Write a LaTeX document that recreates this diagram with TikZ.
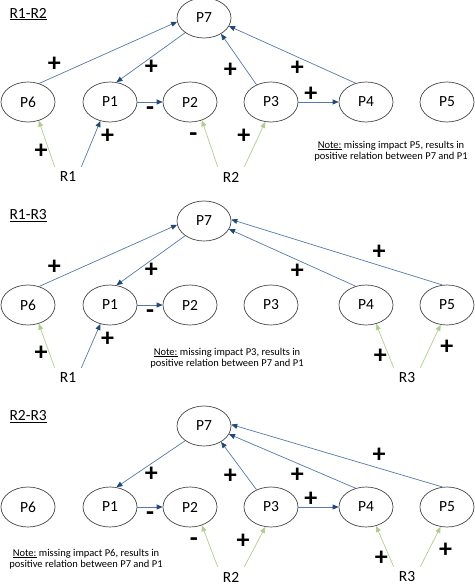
\documentclass[tikz,border=0pt]{standalone}
\usepackage{fontspec}
\setmainfont{Carlito}
\usetikzlibrary{positioning, arrows.meta, shapes}

\definecolor{linkblue}{RGB}{84,121,170}
\definecolor{tipblue}{RGB}{31,73,125}
\definecolor{linkgreen}{RGB}{176,205,140}
\definecolor{rimgray}{RGB}{70,70,70}

\tikzset{
  proc/.style={ellipse, draw=rimgray, line width=0.7pt, minimum width=54pt, minimum height=40pt, inner sep=0pt, font=\fontsize{15.5}{18}\selectfont},
  res/.style={inner sep=5pt, font=\fontsize{15.5}{18}\selectfont},
  sgn/.style={inner sep=0pt, font=\bfseries\fontsize{26}{26}\selectfont},
  blink/.style={draw=linkblue, line width=0.7pt, -{Triangle[length=6pt, width=5pt, color=tipblue]}},
  glink/.style={draw=linkgreen, line width=0.7pt, -{Triangle[length=6pt, width=5pt]}},
  note/.style={align=center, font=\fontsize{10.5}{11.5}\selectfont},
  heading/.style={anchor=west, font=\fontsize{15.5}{18}\selectfont}
}

\begin{document}
\begin{tikzpicture}[x=1pt, y=-1pt]
  \useasboundingbox (0,0) rectangle (474,585);

  % R1-R2
  \node[heading] (ha) at (6,14) {\underline{R1-R2}};
  \node[proc] (p7a) at (204,18) {P7};
  \node[proc] (p6a) at (28,102) {P6};
  \node[proc] (p1a) at (110,102) {P1};
  \node[proc] (p2a) at (190,102) {P2};
  \node[proc] (p3a) at (271,102) {P3};
  \node[proc] (p4a) at (366,102) {P4};
  \node[proc] (p5a) at (447,102) {P5};
  \node[res] (r1a) at (68,177) {R1};
  \node[res] (r2a) at (231,177) {R2};
  \node[note] (na) at (391,151) {\underline{Note:} missing impact P5, results in\\positive relation between P7 and P1};

  \draw[blink] (p6a.59) -- node[sgn, pos=.11, above=5pt] {+} (p7a.188);
  \draw[blink] (p7a.218) -- node[sgn, pos=.49, below=3pt] {+} (p1a.72);
  \draw[blink] (p1a.east) -- node[sgn, pos=.5, below=4pt] {-} (p2a.west);
  \draw[glink] (r1a.north west) -- node[sgn, pos=.33, left=1.5pt] {+} (p6a.300);
  \draw[blink] (r1a.north east) -- node[sgn, pos=.66, right=7pt] {+} (p1a.243);
  \draw[glink] (r2a.north west) -- node[sgn, pos=.63, left=10pt] {-} (p2a.303);
  \draw[glink] (r2a.north east) -- node[sgn, pos=.68, left=8pt] {+} (p3a.254);
  \draw[blink] (p3a.130) -- node[sgn, pos=.29, left=9pt] {+} (p7a.317);
  \draw[blink] (p3a.east) -- node[sgn, pos=.31, above=0pt] {+} (p4a.west);
  \draw[blink] (p4a.119) -- node[sgn, pos=.46, below=4pt] {+} (p7a.342);

  % R1-R3
  \node[heading] (hb) at (6,216) {\underline{R1-R3}};
  \node[proc] (p7b) at (204,221) {P7};
  \node[proc] (p6b) at (28,305) {P6};
  \node[proc] (p1b) at (110,305) {P1};
  \node[proc] (p2b) at (190,305) {P2};
  \node[proc] (p3b) at (271,305) {P3};
  \node[proc] (p4b) at (366,305) {P4};
  \node[proc] (p5b) at (447,305) {P5};
  \node[res] (r1b) at (68,378) {R1};
  \node[res] (r3b) at (407,378) {R3};
  \node[note] (nb) at (227,358) {\underline{Note:} missing impact P3, results in\\positive relation between P7 and P1};

  \draw[blink] (p6b.59) -- node[sgn, pos=.11, above=5pt] {+} (p7b.188);
  \draw[blink] (p7b.218) -- node[sgn, pos=.49, below=3pt] {+} (p1b.72);
  \draw[blink] (p1b.east) -- node[sgn, pos=.5, below=4pt] {-} (p2b.west);
  \draw[glink] (r1b.north west) -- node[sgn, pos=.33, left=1.5pt] {+} (p6b.300);
  \draw[blink] (r1b.north east) -- node[sgn, pos=.66, right=7pt] {+} (p1b.243);
  \draw[blink] (p4b.119) -- node[sgn, pos=.46, below=4pt] {+} (p7b.342);
  \draw[blink] (p5b.103) -- node[sgn, pos=.3, above=5pt] {+} (p7b.3);
  \draw[glink] (r3b.north west) -- node[sgn, pos=.26, left=2pt] {+} (p4b.298);
  \draw[glink] (r3b.north east) -- node[sgn, pos=.48, right=10pt] {+} (p5b.252);

  % R2-R3
  \node[heading] (hc) at (6,417) {\underline{R2-R3}};
  \node[proc] (p7c) at (204,426) {P7};
  \node[proc] (p6c) at (28,507) {P6};
  \node[proc] (p1c) at (110,507) {P1};
  \node[proc] (p2c) at (190,507) {P2};
  \node[proc] (p3c) at (271,507) {P3};
  \node[proc] (p4c) at (366,507) {P4};
  \node[proc] (p5c) at (447,507) {P5};
  \node[res] (r2c) at (231,577) {R2};
  \node[res] (r3c) at (407,577) {R3};
  \node[note] (nc) at (86,559) {\underline{Note:} missing impact P6, results in\\positive relation between P7 and P1};

  \draw[blink] (p7c.218) -- node[sgn, pos=.49, below=3pt] {+} (p1c.72);
  \draw[blink] (p1c.east) -- node[sgn, pos=.5, below=4pt] {-} (p2c.west);
  \draw[glink] (r2c.north west) -- node[sgn, pos=.6, left=10pt] {-} (p2c.303);
  \draw[glink] (r2c.north east) -- node[sgn, pos=.65, left=8pt] {+} (p3c.254);
  \draw[blink] (p3c.130) -- node[sgn, pos=.29, left=9pt] {+} (p7c.317);
  \draw[blink] (p3c.east) -- node[sgn, pos=.31, above=0pt] {+} (p4c.west);
  \draw[blink] (p4c.119) -- node[sgn, pos=.46, below=4pt] {+} (p7c.342);
  \draw[blink] (p5c.103) -- node[sgn, pos=.3, above=5pt] {+} (p7c.3);
  \draw[glink] (r3c.north west) -- node[sgn, pos=.2, left=2pt] {+} (p4c.298);
  \draw[glink] (r3c.north east) -- node[sgn, pos=.42, right=10pt] {+} (p5c.252);
\end{tikzpicture}
\end{document}
